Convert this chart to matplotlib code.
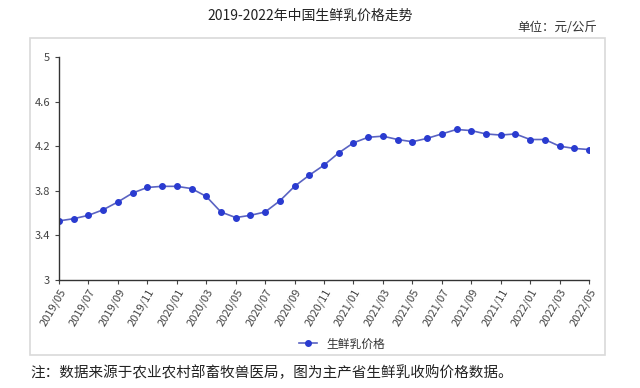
import matplotlib
matplotlib.use('Agg')
import matplotlib.pyplot as plt
from matplotlib.patches import Rectangle

plt.rcParams['font.family'] = ['Noto Sans CJK SC', 'DejaVu Sans']

# 月份 2019/05 - 2022/05
months = []
for y in range(2019, 2023):
    for m in range(1, 13):
        if (y == 2019 and m < 5) or (y == 2022 and m > 5):
            continue
        months.append('%d/%02d' % (y, m))

# 生鲜乳价格 元/公斤
price = [3.53, 3.55, 3.58, 3.63, 3.70, 3.78, 3.83, 3.84, 3.84, 3.82,
         3.75, 3.61, 3.56, 3.58, 3.61, 3.71, 3.84, 3.94, 4.03, 4.14,
         4.23, 4.28, 4.29, 4.26, 4.24, 4.27, 4.31, 4.35, 4.34, 4.31,
         4.30, 4.31, 4.26, 4.26, 4.20, 4.18, 4.17]

yticks = [3, 3.4, 3.8, 4.2, 4.6, 5]

fig = plt.figure(figsize=(6.4, 3.88), dpi=100)

# 外框
fig.patches.append(Rectangle((30 / 640, 1 - 355 / 388), 575 / 640, 317 / 388,
                             transform=fig.transFigure, fill=False,
                             edgecolor='#d9d9d9', linewidth=1.2))

ax = fig.add_axes([59 / 640, 1 - 280 / 388, 530 / 640, 223 / 388])
x = list(range(len(months)))
ax.plot(x, price, color='#5a63c2', linewidth=1.2, marker='o', markersize=4,
        markerfacecolor='#2a3bd0', markeredgecolor='#2a3bd0', label='生鲜乳价格')

ax.set_xlim(0, len(months) - 1)
ax.set_ylim(3, 5)
ax.set_yticks(yticks)
ax.set_yticklabels(['3', '3.4', '3.8', '4.2', '4.6', '5'])
ax.set_xticks(x[::2])
ax.set_xticklabels(months[::2], rotation=60, ha='right', rotation_mode='anchor')
ax.tick_params(axis='both', labelsize=8, colors='#444444', length=3, width=0.8)
ax.tick_params(axis='x', pad=2)
for s in ['top', 'right']:
    ax.spines[s].set_visible(False)
for s in ['left', 'bottom']:
    ax.spines[s].set_color('#333333')
    ax.spines[s].set_linewidth(1)

h, l = ax.get_legend_handles_labels()
fig.legend(h, l, loc='center', bbox_to_anchor=(342 / 640, 1 - 344 / 388),
           frameon=False, fontsize=8.5, handlelength=1.5, labelcolor='#333333',
           borderpad=0.1)

fig.text(0.485, 0.96, '2019-2022年中国生鲜乳价格走势', ha='center', va='center',
         fontsize=10, color='#222222')
fig.text(597 / 640, 0.93, '单位：元/公斤', ha='right', va='center',
         fontsize=9, color='#333333')
fig.text(30 / 640, 0.04, '注：数据来源于农业农村部畜牧兽医局，图为主产省生鲜乳收购价格数据。',
         ha='left', va='center', fontsize=10.5, color='#222222')

fig.savefig('out.png', dpi=100)
